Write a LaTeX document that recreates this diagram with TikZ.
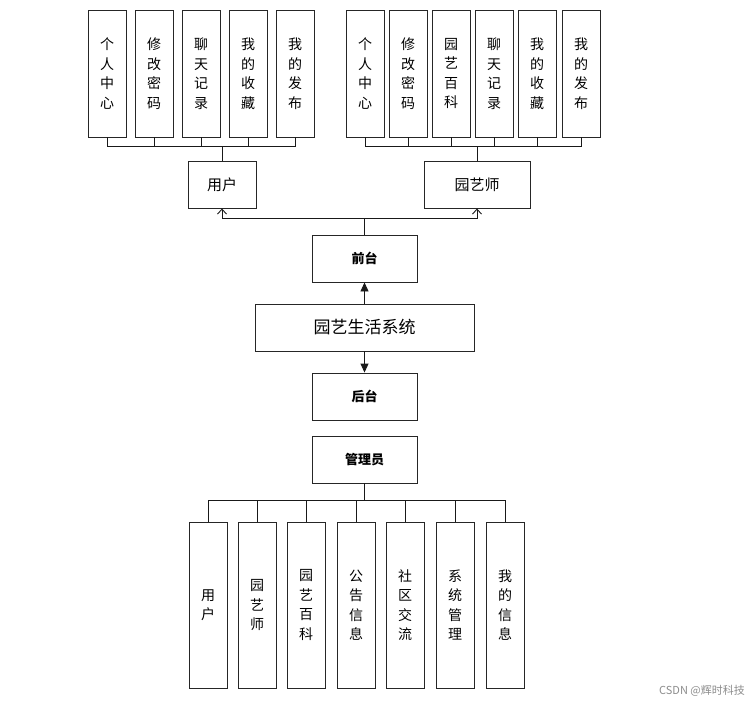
\documentclass[tikz,border=0pt]{standalone}
\usepackage{fontspec}
\setmainfont{Noto Sans CJK SC}
\usetikzlibrary{arrows.meta}
\begin{document}
\begin{tikzpicture}[x=1pt,y=-1pt,
  box/.style={draw=black!85,line width=0.9pt,fill=white,inner sep=0pt},
  vbox/.style={box,minimum width=38pt,align=center,font=\fontsize{14}{19.5}\selectfont},
  hbox/.style={box,minimum width=105pt,minimum height=47pt,font=\bfseries\fontsize{13}{15}\selectfont},
  ln/.style={draw=black!90,line width=0.9pt}]
\useasboundingbox (0,0) rectangle (751,704);
% top left
\foreach \n/\x/\t in {a1/107/个\\人\\中\\心,a2/154/修\\改\\密\\码,a3/201/聊\\天\\记\\录,a4/248/我\\的\\收\\藏,a5/295/我\\的\\发\\布}
  \node[vbox,minimum height=127pt] (\n) at (\x,73.5) {\t};
\foreach \n/\x/\t in {b1/365/个\\人\\中\\心,b2/408/修\\改\\密\\码,b3/451/园\\艺\\百\\科,b4/494/聊\\天\\记\\录,b5/537/我\\的\\收\\藏,b6/581/我\\的\\发\\布}
  \node[vbox,minimum height=127pt] (\n) at (\x,73.5) {\t};
\node[box,minimum width=68pt,minimum height=47pt,font=\fontsize{15}{17}\selectfont] (user) at (222,184.5) {用户};
\node[box,minimum width=106pt,minimum height=47pt,font=\fontsize{15}{17}\selectfont] (gys) at (477,184.5) {园艺师};
\coordinate (lb) at (222,146);
\coordinate (rb) at (477,146);
\foreach \n in {a1,a2,a3,a4,a5} \draw[ln] (\n.south) |- (lb);
\foreach \n in {b1,b2,b3,b4,b5,b6} \draw[ln] (\n.south) |- (rb);
\draw[ln] (lb) -- (user.north);
\draw[ln] (rb) -- (gys.north);
\node[hbox] (qt) at (364.5,258.5) {前台};
\node[box,minimum width=219pt,minimum height=47pt,font=\fontsize{17}{19}\selectfont] (sys) at (364.5,327.5) {园艺生活系统};
\node[hbox] (ht) at (364.5,396.5) {后台};
\node[hbox] (gly) at (364.5,459.5) {管理员};
\coordinate (fj) at (364.5,218);
\draw[ln] (qt.north) -- (fj);
\draw[ln,-{Straight Barb[length=5pt,width=9pt]}] (fj) -| (user.south);
\draw[ln,-{Straight Barb[length=5pt,width=9pt]}] (fj) -| (gys.south);
\draw[ln,-{Triangle[length=9pt,width=8pt]}] (sys.north) -- (qt.south);
\draw[ln,-{Triangle[length=9pt,width=8pt]}] (sys.south) -- (ht.north);
\coordinate (bb) at (364.5,500);
\foreach \n/\x/\t in {c1/208/用\\户,c2/257/园\\艺\\师,c3/306/园\\艺\\百\\科,c4/356/公\\告\\信\\息,c5/405/社\\区\\交\\流,c6/455/系\\统\\管\\理,c7/505/我\\的\\信\\息}
  {\node[vbox,minimum height=166pt] (\n) at (\x,605) {\t};
   \draw[ln] (\n.north) |- (bb);}
\draw[ln] (gly.south) -- (bb);
\node[anchor=east,text=black!45,font=\fontsize{11}{13}\selectfont,inner sep=0pt] (wm) at (745,691) {CSDN @辉时科技};
\end{tikzpicture}
\end{document}
